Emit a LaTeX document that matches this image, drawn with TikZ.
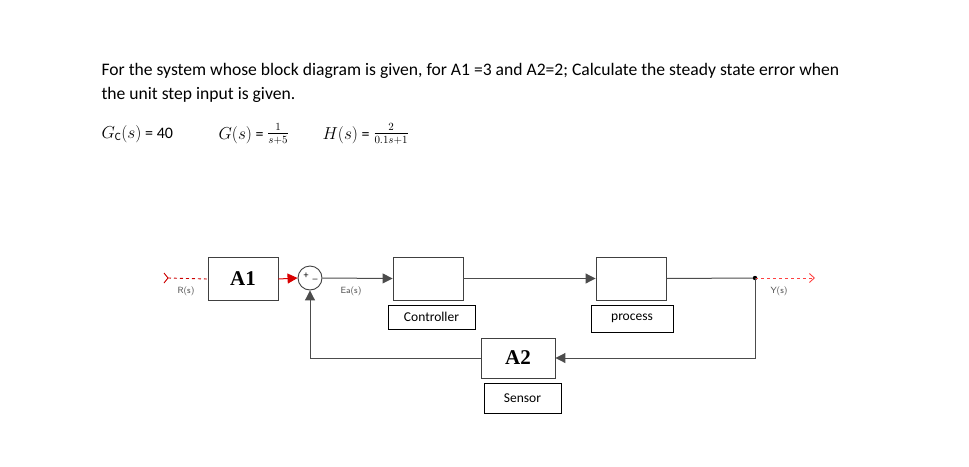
\documentclass[tikz,border=0pt]{standalone}
\usepackage{fontspec}
\setmainfont{Carlito}
\usetikzlibrary{arrows.meta}
\begin{document}
\begin{tikzpicture}[x=1pt,y=-1pt,
 blk/.style={draw=black!75,line width=0.9pt,minimum width=70pt,minimum height=43pt,inner sep=0pt},
 lbl/.style={draw,line width=0.7pt,inner sep=0pt,font=\fontsize{13.5}{15}\selectfont},
 sig/.style={draw=black!70,line width=1pt},
 tip/.style={-{Triangle[length=10pt,width=10pt]}},
 big/.style={font=\bfseries\fontsize{21}{22}\selectfont},
 small/.style={font=\sffamily\fontsize{9}{10}\selectfont,text=black!70}]
\useasboundingbox (0,0) rectangle (969,466);
\node[anchor=west,font=\fontsize{17.6}{20}\selectfont] (t1) at (98,71) {For the system whose block diagram is given, for A1 =3 and A2=2; Calculate the steady state error when};
\node[anchor=west,font=\fontsize{17.6}{20}\selectfont] (t2) at (98,95) {the unit step input is given.};
\node[anchor=west,font=\fontsize{16}{18}\selectfont] (gc) at (98,134) {$G_{\mathrm{C}}(s)$ = 40};
\node[anchor=west,font=\fontsize{16}{18}\selectfont] (g) at (215,134) {$G(s)$ = \raisebox{0.3ex}{$\frac{1}{s+5}$}};
\node[anchor=west,font=\fontsize{16}{18}\selectfont] (h) at (319,134) {$H(s)$ = \raisebox{0.3ex}{$\frac{2}{0.1s+1}$}};
\node[blk,big] (a1) at (243,279) {\fontspec{Liberation Serif}A1};
\node[draw=black!75,line width=0.9pt,circle,minimum size=24pt,inner sep=0pt] (sum) at (310,278) {};
\node[font=\fontsize{10}{10}\selectfont] (plus) at (306,276) {+};
\node[font=\fontsize{10}{10}\selectfont] (minus) at (315,279) {\_};
\node[blk] (ctrl) at (428,278.5) {};
\node[lbl,minimum width=87pt,minimum height=24pt] (ctrll) at (431.5,317) {Controller};
\node[blk] (proc) at (631,278.5) {};
\node[lbl,minimum width=82pt,minimum height=27pt] (procl) at (632,318.5) {process};
\node[blk,big,minimum width=74pt,minimum height=40pt] (a2) at (518,358) {\fontspec{Liberation Serif}A2};
\node[lbl,minimum width=77pt,minimum height=30pt] (sens) at (522.5,398) {Sensor};
\coordinate (in) at (168,278);
\coordinate (br) at (755,278);
\coordinate (out) at (815,278);
\coordinate (c1) at (755,358);
\coordinate (c2) at (310,358);
\draw[red!80!black,dashed,line width=0.9pt] (in) -- (a1.west);
\draw[red!80!black,line width=0.9pt] (in) ++(-4,-5) -- (in) -- ++(-4,5);
\node[small] (rs) at (186,291) {R(s)};
\draw[red!85!black,line width=1pt,tip] (a1.east) -- (sum.west);
\draw[sig,tip] (sum.east) -- (ctrl.west);
\node[small] (ea) at (351,291) {Ea(s)};
\draw[sig,tip] (ctrl.east) -- (proc.west);
\draw[sig] (proc.east) -- (br);
\fill (br) circle (2.2pt);
\draw[red!75,dashed,line width=0.9pt,-{Straight Barb[length=5pt,width=9pt]}] (br) -- (out);
\node[small] (ys) at (779,291) {Y(s)};
\draw[sig,tip] (br) -- (c1) -- (a2.east);
\draw[sig,tip] (a2.west) -- (c2) -- (sum.south);
\end{tikzpicture}
\end{document}
